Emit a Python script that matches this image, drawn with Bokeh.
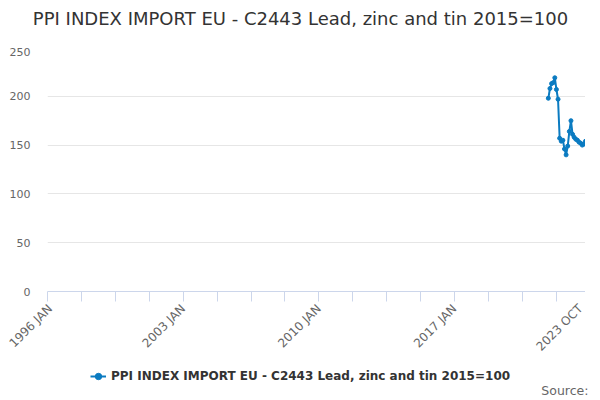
import math
from bokeh.plotting import figure
from bokeh.layouts import column, row
from bokeh.models import (Range1d, FixedTicker, Legend, LegendItem, Label, ColumnDataSource, Spacer)
from bokeh.embed import file_html
from bokeh.resources import INLINE

TITLE = "PPI INDEX IMPORT EU - C2443 Lead, zinc and tin 2015=100"
SOURCE_TEXT = "Source:"
MONTH_NAMES = ["JAN", "FEB", "MAR", "APR", "MAY", "JUN", "JUL", "AUG", "SEP", "OCT", "NOV", "DEC"]

# axis categories: monthly from 1996 JAN to 2023 OCT
axis_start = (1996, 1)
axis_end = (2023, 10)

# data
data_months = ["2021 NOV", "2021 DEC", "2022 JAN", "2022 FEB", "2022 MAR", "2022 APR",
               "2022 MAY", "2022 JUN", "2022 JUL", "2022 AUG", "2022 SEP", "2022 OCT",
               "2022 NOV", "2022 DEC", "2023 JAN", "2023 FEB", "2023 MAR", "2023 APR",
               "2023 MAY", "2023 JUN", "2023 JUL", "2023 AUG", "2023 SEP", "2023 OCT"]
data_values = [198, 208, 213, 214, 219, 207, 197, 157, 154, 155, 146, 140,
               149, 164, 175, 161, 158, 156, 155, 153, 152, 150, 151, 154]

y_ticks = [0, 50, 100, 150, 200, 250]
x_label_months = ["1996 JAN", "2003 JAN", "2010 JAN", "2017 JAN", "2023 OCT"]

categories = []
y, m = axis_start
while (y, m) <= axis_end:
    categories.append(f"{y} {MONTH_NAMES[m-1]}")
    m += 1
    if m > 12:
        m = 1
        y += 1
n = len(categories)

xs = [categories.index(c) for c in data_months]
src = ColumnDataSource(dict(x=xs, y=data_values, month=data_months))

FONT = "DejaVu Sans"
BLUE = "#0b7bc1"
W = 600

def blank_fig(h, y_start=0):
    f = figure(width=W, height=h, output_backend="svg", toolbar_location=None,
               x_range=Range1d(0, W), y_range=Range1d(y_start, y_start + h),
               x_axis_location=None, y_axis_location=None,
               min_border=0, min_border_left=0, min_border_right=0,
               min_border_top=0, min_border_bottom=0)
    f.outline_line_color = None
    f.xgrid.grid_line_color = None
    f.ygrid.grid_line_color = None
    return f

# ---- header with title ----
HEAD_H = 47
head = blank_fig(HEAD_H)
head.add_layout(Label(x=W / 2, y=HEAD_H - 17.5, text=TITLE, text_align="center",
                      text_baseline="middle", text_font=FONT, text_font_size="18px",
                      text_color="#333333"))

# ---- main chart ----
p = figure(frame_width=538, frame_height=244, output_backend="svg", toolbar_location=None,
           x_range=Range1d(0, n - 1), y_range=Range1d(0, 250),
           min_border=0, min_border_left=0, min_border_right=0,
           min_border_top=0, min_border_bottom=0)
p.outline_line_color = None
p.background_fill_color = "white"

tick_positions = list(range(0, n, 21)) + [n - 1]
p.xaxis.ticker = FixedTicker(ticks=tick_positions)
overrides = {}
for t in tick_positions:
    lab = categories[t]
    overrides[t] = lab if lab in x_label_months else ""
p.xaxis.major_label_overrides = overrides
p.xaxis.major_label_orientation = math.pi / 4
p.xaxis.axis_line_color = "#ccd6eb"
p.xaxis.major_tick_line_color = "#ccd6eb"
p.xaxis.major_tick_out = 10
p.xaxis.major_tick_in = 0
p.xaxis.minor_tick_line_color = None
p.xaxis.minor_tick_out = 0
p.xaxis.major_label_text_font = FONT
p.xaxis.major_label_text_font_size = "12px"
p.xaxis.major_label_text_color = "#666666"
p.xaxis.major_label_standoff = 5
p.xgrid.grid_line_color = None

p.yaxis.ticker = FixedTicker(ticks=y_ticks)
p.yaxis.axis_line_color = None
p.yaxis.major_tick_line_color = None
p.yaxis.major_tick_out = 0
p.yaxis.major_tick_in = 0
p.yaxis.minor_tick_line_color = None
p.yaxis.minor_tick_out = 0
p.yaxis.major_label_text_font = FONT
p.yaxis.major_label_text_font_size = "11px"
p.yaxis.major_label_text_color = "#666666"
p.yaxis.major_label_standoff = 17
p.ygrid.grid_line_color = "#e6e6e6"
p.ygrid.ticker = FixedTicker(ticks=y_ticks)

p.line("x", "y", source=src, line_color=BLUE, line_width=2)
p.scatter("x", "y", source=src, size=4, fill_color=BLUE, line_color=BLUE)

# ---- footer with legend and source ----
# the footer's y range lies far below the data, so its legend renderers draw
# nothing visible; they only provide the legend swatch
FOOT_H = 39
foot = blank_fig(FOOT_H, y_start=-1000)
leg_line = foot.line("x", "y", source=src, line_color=BLUE, line_width=2)
leg_pts = foot.scatter("x", "y", source=src, size=4, fill_color=BLUE, line_color=BLUE)
legend = Legend(items=[LegendItem(label=TITLE, renderers=[leg_line, leg_pts])],
                location=(90, 14), orientation="horizontal",
                label_text_font=FONT, label_text_font_size="12px",
                label_text_font_style="bold", label_text_color="#333333",
                glyph_width=16, border_line_color=None, background_fill_alpha=0,
                margin=0, padding=4, spacing=0, label_standoff=5, label_height=16)
foot.add_layout(legend, "center")
foot.add_layout(Label(x=588, y=10, x_units="data", y_units="screen", text=SOURCE_TEXT,
                      text_align="right", text_baseline="middle", text_font=FONT,
                      text_font_size="12.5px", text_color="#666666"))

layout = column(head, row(Spacer(width=6), p), foot, spacing=0)
open("out.html", "w").write(file_html(layout, INLINE))
